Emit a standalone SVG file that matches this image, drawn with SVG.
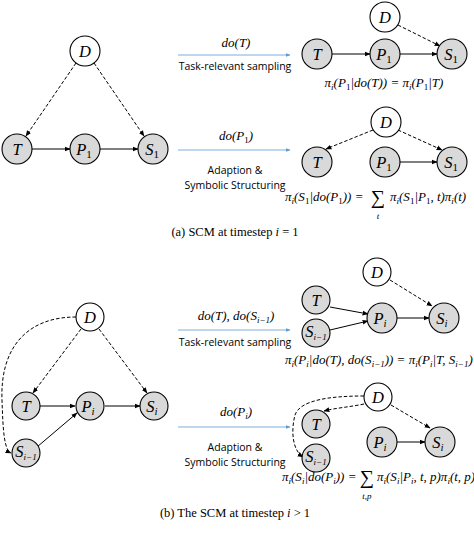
<svg xmlns="http://www.w3.org/2000/svg" width="474" height="545" viewBox="0 0 474 545">
<defs>
<style>
.n{stroke:#000;stroke-width:1.1}
.g{fill:#d9d9d9}
.w{fill:#fff}
.lbl{font-family:"Liberation Serif",serif;font-style:italic;font-size:16.5px;text-anchor:middle;fill:#000}
.sub{font-size:11px;font-style:normal}
.subi{font-size:11px}
.e{fill:none;stroke:#000;stroke-width:1}
.d{fill:none;stroke:#000;stroke-width:1;stroke-dasharray:3.5,2}
.b{fill:none;stroke:#5b9bd5;stroke-width:0.8}
.t{font-family:"Open Sans","Liberation Sans",sans-serif;font-size:10.5px;text-anchor:middle;fill:#000}
.m{font-family:"Liberation Serif",serif;font-style:italic;font-size:13px;fill:#000}
.ms{font-size:9px}
.sig{font-family:"Liberation Serif",serif;font-size:20px;text-anchor:middle;fill:#000}
.cap{font-family:"Liberation Serif",serif;font-size:12.5px;fill:#000;text-anchor:middle}
</style>
<marker id="ah" viewBox="0 0 10 10" refX="9" refY="5" markerWidth="6" markerHeight="6" orient="auto" markerUnits="userSpaceOnUse"><path d="M0,1 L10,5 L0,9 z" fill="#000"/></marker>
<marker id="ab" viewBox="0 0 10 10" refX="9" refY="5" markerWidth="5" markerHeight="5" orient="auto" markerUnits="userSpaceOnUse"><path d="M0,1 L10,5 L0,9 z" fill="#5b9bd5"/></marker>
</defs>
<rect width="474" height="545" fill="#fff"/>

<g id="connectors">
<path class="d" d="M76,63 L26,136" marker-end="url(#ah)"/>
<path class="d" d="M94,63 L144,136" marker-end="url(#ah)"/>
<path class="e" d="M32,149 L70,149" marker-end="url(#ah)"/>
<path class="e" d="M100,149 L138,149" marker-end="url(#ah)"/>
<path class="b" d="M178,55 L290,55" marker-end="url(#ab)"/>
<path class="b" d="M178,150 L290,150" marker-end="url(#ab)"/>
<path class="b" d="M178,330 L290,330" marker-end="url(#ab)"/>
<path class="b" d="M178,427 L290,427" marker-end="url(#ab)"/>
<path class="d" d="M398,25 L440,46" marker-end="url(#ah)"/>
<path class="e" d="M332,54 L370,54" marker-end="url(#ah)"/>
<path class="e" d="M400,54 L437,54" marker-end="url(#ah)"/>
<path class="d" d="M373,130 L326,149" marker-end="url(#ah)"/>
<path class="d" d="M398,130 L442,150" marker-end="url(#ah)"/>
<path class="e" d="M400,162 L437,162" marker-end="url(#ah)"/>
<path class="d" d="M76,317 C25,317 0,350 2,400 C3,430 4,450 11,453" marker-end="url(#ah)"/>
<path class="d" d="M81,329 L33,393" marker-end="url(#ah)"/>
<path class="d" d="M99,329 L147,393" marker-end="url(#ah)"/>
<path class="e" d="M40,406 L75,406" marker-end="url(#ah)"/>
<path class="e" d="M37,447 L77,413" marker-end="url(#ah)"/>
<path class="e" d="M105,406 L140,406" marker-end="url(#ah)"/>
<path class="d" d="M390,280 L432,306" marker-end="url(#ah)"/>
<path class="e" d="M330,307 L368,314" marker-end="url(#ah)"/>
<path class="e" d="M330,330 L368,321" marker-end="url(#ah)"/>
<path class="e" d="M397,318 L429,318" marker-end="url(#ah)"/>
<path class="d" d="M364,404 C350,407 335,408 324,411" marker-end="url(#ah)"/>
<path class="d" d="M364,396 C330,396 300,400 295,415 C291,430 292,450 303,457" marker-end="url(#ah)"/>
<path class="d" d="M391,405 L430,428" marker-end="url(#ah)"/>
<path class="e" d="M397,442 L425,442" marker-end="url(#ah)"/>
</g>

<g id="tl-D"><circle class="n w" cx="85" cy="51" r="15"/><text class="lbl" x="85" y="57">D</text></g>
<g id="tl-T"><circle class="n g" cx="17" cy="149" r="15"/><text class="lbl" x="17" y="155">T</text></g>
<g id="tl-P1"><circle class="n g" cx="85" cy="149" r="15"/><text class="lbl" x="84" y="155">P<tspan class="sub" dy="3">1</tspan></text></g>
<g id="tl-S1"><circle class="n g" cx="153" cy="149" r="15"/><text class="lbl" x="152" y="155">S<tspan class="sub" dy="3">1</tspan></text></g>

<g id="label-1"><text class="m" x="236" y="47" text-anchor="middle" font-size="14">do(T)</text><text class="t" x="235" y="70">Task-relevant sampling</text></g>
<g id="label-2"><text class="m" x="236" y="140" text-anchor="middle" font-size="14">do(P<tspan class="ms" dy="3" font-style="normal">1</tspan><tspan dy="-3">)</tspan></text><text class="t" x="235" y="174">Adaption &amp;</text><text class="t" x="235" y="189">Symbolic Structuring</text></g>
<g id="label-3"><text class="m" x="236" y="320" text-anchor="middle" font-size="14">do(T), do(S<tspan class="ms" dy="3">i−1</tspan><tspan dy="-3">)</tspan></text><text class="t" x="235" y="346">Task-relevant sampling</text></g>
<g id="label-4"><text class="m" x="236" y="416" text-anchor="middle" font-size="14">do(P<tspan class="ms" dy="3">i</tspan><tspan dy="-3">)</tspan></text><text class="t" x="235" y="451">Adaption &amp;</text><text class="t" x="235" y="466">Symbolic Structuring</text></g>

<g id="p1-D"><circle class="n w" cx="385" cy="17" r="15"/><text class="lbl" x="385" y="23">D</text></g>
<g id="p1-T"><circle class="n g" cx="317" cy="54" r="15"/><text class="lbl" x="317" y="60">T</text></g>
<g id="p1-P1"><circle class="n g" cx="385" cy="54" r="15"/><text class="lbl" x="384" y="60">P<tspan class="sub" dy="3">1</tspan></text></g>
<g id="p1-S1"><circle class="n g" cx="452" cy="54" r="15"/><text class="lbl" x="451" y="60">S<tspan class="sub" dy="3">1</tspan></text></g>
<g id="formula-1"><text class="m" x="384" y="87" text-anchor="middle">π<tspan class="ms" dy="3">i</tspan><tspan dy="-3">(P</tspan><tspan class="ms" dy="3" font-style="normal">1</tspan><tspan dy="-3">|do(T)) = π</tspan><tspan class="ms" dy="3">i</tspan><tspan dy="-3">(P</tspan><tspan class="ms" dy="3" font-style="normal">1</tspan><tspan dy="-3">|T)</tspan></text></g>

<g id="p2-D"><circle class="n w" cx="386" cy="122" r="15"/><text class="lbl" x="386" y="128">D</text></g>
<g id="p2-T"><circle class="n g" cx="317" cy="162" r="15"/><text class="lbl" x="317" y="168">T</text></g>
<g id="p2-P1"><circle class="n g" cx="385" cy="162" r="15"/><text class="lbl" x="384" y="168">P<tspan class="sub" dy="3">1</tspan></text></g>
<g id="p2-S1"><circle class="n g" cx="452" cy="162" r="15"/><text class="lbl" x="451" y="168">S<tspan class="sub" dy="3">1</tspan></text></g>
<g id="formula-2"><text class="m" x="285" y="201">π<tspan class="ms" dy="3">i</tspan><tspan dy="-3">(S</tspan><tspan class="ms" dy="3" font-style="normal">1</tspan><tspan dy="-3">|do(P</tspan><tspan class="ms" dy="3" font-style="normal">1</tspan><tspan dy="-3">)) =</tspan></text>
<text class="sig" x="378" y="204">∑</text>
<text class="m ms" x="378" y="219" text-anchor="middle">t</text>
<text class="m" x="390" y="201">π<tspan class="ms" dy="3">i</tspan><tspan dy="-3">(S</tspan><tspan class="ms" dy="3" font-style="normal">1</tspan><tspan dy="-3">|P</tspan><tspan class="ms" dy="3" font-style="normal">1</tspan><tspan dy="-3">, t)π</tspan><tspan class="ms" dy="3">i</tspan><tspan dy="-3">(t)</tspan></text></g>

<text class="cap" x="235" y="236">(a) SCM at timestep <tspan font-style="italic">i</tspan> = 1</text>

<g id="bl-D"><circle class="n w" cx="90" cy="317" r="14"/><text class="lbl" x="90" y="323">D</text></g>
<g id="bl-T"><circle class="n g" cx="26" cy="406" r="14"/><text class="lbl" x="26" y="412">T</text></g>
<g id="bl-Pi"><circle class="n g" cx="90" cy="406" r="14"/><text class="lbl" x="88" y="412">P<tspan class="subi" dy="3">i</tspan></text></g>
<g id="bl-Si"><circle class="n g" cx="154" cy="406" r="14"/><text class="lbl" x="152" y="412">S<tspan class="subi" dy="3">i</tspan></text></g>
<g id="bl-Sim1"><circle class="n g" cx="26" cy="453" r="14"/><text class="lbl" x="26" y="457" font-size="13">S<tspan font-size="9" dy="3">i−1</tspan></text></g>

<g id="p3-D"><circle class="n w" cx="377" cy="272" r="14"/><text class="lbl" x="377" y="278">D</text></g>
<g id="p3-T"><circle class="n g" cx="316" cy="300" r="14"/><text class="lbl" x="316" y="306">T</text></g>
<g id="p3-Sim1"><circle class="n g" cx="316" cy="333" r="14"/><text class="lbl" x="316" y="337" font-size="13">S<tspan font-size="9" dy="3">i−1</tspan></text></g>
<g id="p3-Pi"><circle class="n g" cx="382" cy="318" r="15"/><text class="lbl" x="380" y="324">P<tspan class="subi" dy="3">i</tspan></text></g>
<g id="p3-Si"><circle class="n g" cx="444" cy="318" r="15"/><text class="lbl" x="442" y="324">S<tspan class="subi" dy="3">i</tspan></text></g>
<g id="formula-3"><text class="m" x="285" y="364">π<tspan class="ms" dy="3">i</tspan><tspan dy="-3">(P</tspan><tspan class="ms" dy="3">i</tspan><tspan dy="-3">|do(T), do(S</tspan><tspan class="ms" dy="3">i−1</tspan><tspan dy="-3">)) = π</tspan><tspan class="ms" dy="3">i</tspan><tspan dy="-3">(P</tspan><tspan class="ms" dy="3">i</tspan><tspan dy="-3">|T, S</tspan><tspan class="ms" dy="3">i−1</tspan><tspan dy="-3">)</tspan></text></g>

<g id="p4-D"><circle class="n w" cx="378" cy="397" r="14"/><text class="lbl" x="378" y="403">D</text></g>
<g id="p4-T"><circle class="n g" cx="316" cy="424" r="14"/><text class="lbl" x="316" y="430">T</text></g>
<g id="p4-Sim1"><circle class="n g" cx="316" cy="458" r="14"/><text class="lbl" x="316" y="462" font-size="13">S<tspan font-size="9" dy="3">i−1</tspan></text></g>
<g id="p4-Pi"><circle class="n g" cx="382" cy="442" r="15"/><text class="lbl" x="380" y="448">P<tspan class="subi" dy="3">i</tspan></text></g>
<g id="p4-Si"><circle class="n g" cx="440" cy="442" r="15"/><text class="lbl" x="438" y="448">S<tspan class="subi" dy="3">i</tspan></text></g>
<g id="formula-4"><text class="m" x="282" y="481">π<tspan class="ms" dy="3">i</tspan><tspan dy="-3">(S</tspan><tspan class="ms" dy="3">i</tspan><tspan dy="-3">|do(P</tspan><tspan class="ms" dy="3">i</tspan><tspan dy="-3">)) =</tspan></text>
<text class="sig" x="367" y="484">∑</text>
<text class="m ms" x="367" y="499" text-anchor="middle">t,p</text>
<text class="m" x="377" y="481" font-size="12.5">π<tspan class="ms" dy="3">i</tspan><tspan dy="-3">(S</tspan><tspan class="ms" dy="3">i</tspan><tspan dy="-3">|P</tspan><tspan class="ms" dy="3">i</tspan><tspan dy="-3">, t, p)π</tspan><tspan class="ms" dy="3">i</tspan><tspan dy="-3">(t, p)</tspan></text></g>

<text class="cap" x="235" y="517">(b) The SCM at timestep <tspan font-style="italic">i</tspan> &gt; 1</text>
</svg>
